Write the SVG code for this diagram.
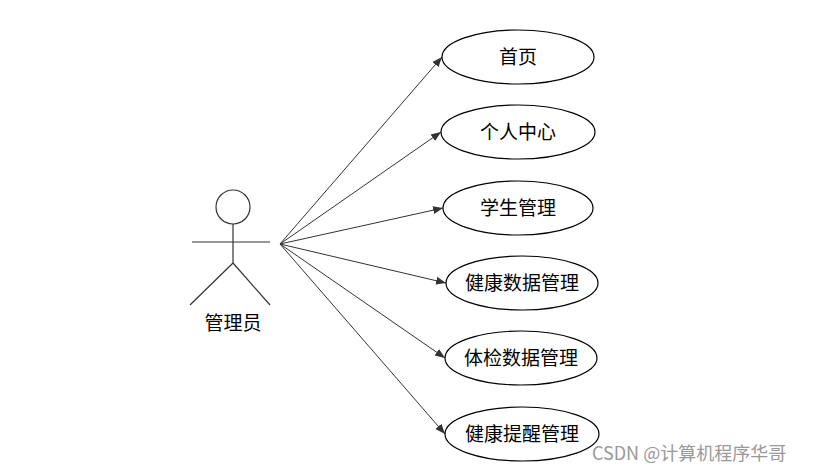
<svg xmlns="http://www.w3.org/2000/svg" width="819" height="471" viewBox="0 0 819 471">
<style>
.e{fill:#fff;stroke:#000;stroke-width:1.2}
.t{font-family:"Liberation Serif","Noto Sans CJK SC",serif;font-size:19px;text-anchor:middle;fill:#000}
.c{stroke:#333;stroke-width:1;fill:none;marker-end:url(#a)}
.s{stroke:#333;stroke-width:1.2;fill:none}
</style>
<defs><marker id="a" viewBox="0 0 10 10" refX="10" refY="5" markerWidth="10" markerHeight="10" markerUnits="userSpaceOnUse" orient="auto"><path d="M0,1 L10,5 L0,9 Z" fill="#333"/></marker></defs>
<rect width="819" height="471" fill="#fff"/>
<g id="connectors">
<line class="c" x1="280" y1="244" x2="442" y2="57"/>
<line class="c" x1="280" y1="244" x2="441" y2="132"/>
<line class="c" x1="280" y1="244" x2="443" y2="208"/>
<line class="c" x1="280" y1="244" x2="446" y2="283"/>
<line class="c" x1="280" y1="244" x2="445" y2="358"/>
<line class="c" x1="280" y1="244" x2="445" y2="434"/>
</g>
<g id="actor">
<circle class="s" cx="233" cy="207" r="17"/>
<path class="s" d="M233,224 V263 M192,242 H270 M233,263 L190,305 M233,263 L270,305"/>
<text class="t" x="233" y="330">管理员</text>
</g>
<g id="n1"><ellipse class="e" cx="518" cy="57" rx="76" ry="27"/><text class="t" x="518" y="64">首页</text></g>
<g id="n2"><ellipse class="e" cx="518" cy="132" rx="77" ry="27"/><text class="t" x="518" y="139">个人中心</text></g>
<g id="n3"><ellipse class="e" cx="518" cy="208" rx="75" ry="27"/><text class="t" x="518" y="215">学生管理</text></g>
<g id="n4"><ellipse class="e" cx="522" cy="283" rx="76" ry="27"/><text class="t" x="522" y="290">健康数据管理</text></g>
<g id="n5"><ellipse class="e" cx="521" cy="358" rx="76" ry="27"/><text class="t" x="521" y="365">体检数据管理</text></g>
<g id="n6"><ellipse class="e" cx="522" cy="434" rx="77" ry="27"/><text class="t" x="522" y="441">健康提醒管理</text></g>
<text x="592" y="460" font-family="'Noto Sans CJK SC',sans-serif" font-size="18" fill="#999">CSDN @计算机程序华哥</text>
</svg>
